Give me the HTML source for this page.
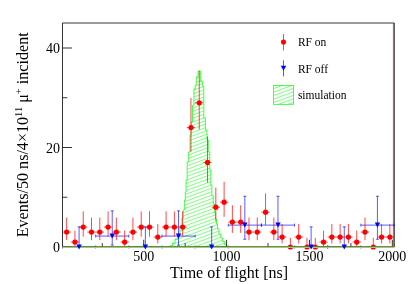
<!DOCTYPE html>
<html><head><meta charset="utf-8"><title>Time of flight</title>
<style>html,body{margin:0;padding:0;background:#fff}svg{display:block}text{font-family:"Liberation Serif",serif;fill:#000}</style></head><body>
<svg width="415" height="284" viewBox="0 0 415 284">
<rect width="415" height="284" fill="#fff"/>
<defs>
<clipPath id="gc"><polygon points="170.5,247.0 170.5,245.5 172.5,245.5 172.5,243.0 175.0,243.0 175.0,239.0 177.5,239.0 177.5,234.0 179.9,234.0 179.9,226.0 181.9,226.0 181.9,218.0 183.2,218.0 183.2,210.0 184.4,210.0 184.4,200.0 185.3,200.0 185.3,192.0 186.1,192.0 186.1,180.0 187.2,180.0 187.2,162.0 188.3,162.0 188.3,152.0 190.0,152.0 190.0,135.0 191.2,135.0 191.2,122.0 192.5,122.0 192.5,105.3 193.9,105.3 193.9,88.8 195.2,88.8 195.2,85.4 196.3,85.4 196.3,76.6 198.1,76.6 198.1,71.1 200.7,71.1 200.7,81.6 202.7,81.6 202.7,86.3 203.8,86.3 203.8,118.0 205.4,118.0 205.4,130.0 207.0,130.0 207.0,140.0 208.3,140.0 208.3,152.0 209.8,152.0 209.8,170.0 210.8,170.0 210.8,185.0 211.9,185.0 211.9,196.0 213.3,196.0 213.3,204.0 214.7,204.0 214.7,213.0 215.6,213.0 215.6,219.0 216.5,219.0 216.5,224.0 217.5,224.0 217.5,229.0 219.0,229.0 219.0,234.0 220.8,234.0 220.8,238.0 222.5,238.0 222.5,241.5 224.5,241.5 224.5,244.5 226.5,244.5 226.5,247.0"/></clipPath>
<clipPath id="lc"><rect x="273.6" y="85.6" width="20" height="18.7"/></clipPath>
</defs>
<path d="M168.0 64.56L230.0 41.99M168.0 68.05L230.0 45.48M168.0 71.54L230.0 48.97M168.0 75.03L230.0 52.46M168.0 78.52L230.0 55.95M168.0 82.01L230.0 59.44M168.0 85.50L230.0 62.93M168.0 88.99L230.0 66.42M168.0 92.48L230.0 69.91M168.0 95.97L230.0 73.40M168.0 99.46L230.0 76.89M168.0 102.95L230.0 80.38M168.0 106.44L230.0 83.87M168.0 109.93L230.0 87.36M168.0 113.42L230.0 90.85M168.0 116.91L230.0 94.34M168.0 120.40L230.0 97.83M168.0 123.89L230.0 101.32M168.0 127.38L230.0 104.81M168.0 130.87L230.0 108.30M168.0 134.36L230.0 111.79M168.0 137.85L230.0 115.28M168.0 141.34L230.0 118.77M168.0 144.83L230.0 122.26M168.0 148.32L230.0 125.75M168.0 151.81L230.0 129.24M168.0 155.30L230.0 132.73M168.0 158.79L230.0 136.22M168.0 162.28L230.0 139.71M168.0 165.77L230.0 143.20M168.0 169.26L230.0 146.69M168.0 172.75L230.0 150.18M168.0 176.24L230.0 153.67M168.0 179.73L230.0 157.16M168.0 183.22L230.0 160.65M168.0 186.71L230.0 164.14M168.0 190.20L230.0 167.63M168.0 193.69L230.0 171.12M168.0 197.18L230.0 174.61M168.0 200.67L230.0 178.10M168.0 204.16L230.0 181.59M168.0 207.65L230.0 185.08M168.0 211.14L230.0 188.57M168.0 214.63L230.0 192.06M168.0 218.12L230.0 195.55M168.0 221.61L230.0 199.04M168.0 225.10L230.0 202.53M168.0 228.59L230.0 206.02M168.0 232.08L230.0 209.51M168.0 235.57L230.0 213.00M168.0 239.06L230.0 216.49M168.0 242.55L230.0 219.98M168.0 246.04L230.0 223.47M168.0 249.53L230.0 226.96M168.0 253.02L230.0 230.45M168.0 256.51L230.0 233.94M168.0 260.00L230.0 237.43M168.0 263.49L230.0 240.92M168.0 266.98L230.0 244.41M168.0 270.47L230.0 247.90M168.0 273.96L230.0 251.39" stroke="#00ff00" stroke-width="0.5" fill="none" clip-path="url(#gc)"/>
<polyline points="170.5,247.0 170.5,245.5 172.5,245.5 172.5,243.0 175.0,243.0 175.0,239.0 177.5,239.0 177.5,234.0 179.9,234.0 179.9,226.0 181.9,226.0 181.9,218.0 183.2,218.0 183.2,210.0 184.4,210.0 184.4,200.0 185.3,200.0 185.3,192.0 186.1,192.0 186.1,180.0 187.2,180.0 187.2,162.0 188.3,162.0 188.3,152.0 190.0,152.0 190.0,135.0 191.2,135.0 191.2,122.0 192.5,122.0 192.5,105.3 193.9,105.3 193.9,88.8 195.2,88.8 195.2,85.4 196.3,85.4 196.3,76.6 198.1,76.6 198.1,71.1 200.7,71.1 200.7,81.6 202.7,81.6 202.7,86.3 203.8,86.3 203.8,118.0 205.4,118.0 205.4,130.0 207.0,130.0 207.0,140.0 208.3,140.0 208.3,152.0 209.8,152.0 209.8,170.0 210.8,170.0 210.8,185.0 211.9,185.0 211.9,196.0 213.3,196.0 213.3,204.0 214.7,204.0 214.7,213.0 215.6,213.0 215.6,219.0 216.5,219.0 216.5,224.0 217.5,224.0 217.5,229.0 219.0,229.0 219.0,234.0 220.8,234.0 220.8,238.0 222.5,238.0 222.5,241.5 224.5,241.5 224.5,244.5 226.5,244.5 226.5,247.0" fill="none" stroke="#00ff00" stroke-width="0.7"/>
<g stroke="#000" stroke-width="0.8" fill="none">
<path d="M62.5 247V23H394.3V247" />
<path d="M143.72 247v-7.2"/>
<path d="M226.59 247v-7.2"/>
<path d="M309.47 247v-7.2"/>
<path d="M392.34 247v-7.2"/>
<path d="M102.28 247v-3.9"/>
<path d="M185.16 247v-3.9"/>
<path d="M268.03 247v-3.9"/>
<path d="M350.91 247v-3.9"/>
<path d="M62.5 247.00h9.5"/>
<path d="M62.5 147.50h9.5"/>
<path d="M62.5 48.00h9.5"/>
<path d="M62.5 197.25h4.8"/>
<path d="M62.5 97.75h4.8"/>
</g>
<path d="M393.4 23.5V247" stroke="#ff0000" stroke-width="0.7" fill="none"/>
<g stroke="#0000ff" stroke-width="0.65" fill="none">
<path d="M79.08 226.85V247.00M77.58 226.85h3M77.58 247.00h3M62.50 247.00H95.65M62.50 245.50v3M95.65 245.50v3"/>
<path d="M112.22 210.89V245.11M110.72 210.89h3M110.72 245.11h3M95.65 236.06H128.80M95.65 234.56v3M128.80 234.56v3"/>
<path d="M145.38 226.85V247.00M143.88 226.85h3M143.88 247.00h3M128.80 247.00H161.95M128.80 245.50v3M161.95 245.50v3"/>
<path d="M178.53 210.89V245.11M177.03 210.89h3M177.03 245.11h3M161.95 236.06H195.10M161.95 234.56v3M195.10 234.56v3"/>
<path d="M211.68 226.85V247.00M210.18 226.85h3M210.18 247.00h3M195.10 247.00H228.25M195.10 245.50v3M228.25 245.50v3"/>
<path d="M244.83 196.24V239.25M243.33 196.24h3M243.33 239.25h3M228.25 225.11H261.40M228.25 223.61v3M261.40 223.61v3"/>
<path d="M277.98 196.24V239.25M276.48 196.24h3M276.48 239.25h3M261.40 225.11H294.55M261.40 223.61v3M294.55 223.61v3"/>
<path d="M311.12 226.85V247.00M309.62 226.85h3M309.62 247.00h3M294.55 247.00H327.70M294.55 245.50v3M327.70 245.50v3"/>
<path d="M344.28 226.85V247.00M342.78 226.85h3M342.78 247.00h3M327.70 247.00H360.85M327.70 245.50v3M360.85 245.50v3"/>
<path d="M377.43 196.24V239.25M375.93 196.24h3M375.93 239.25h3M360.85 225.11H394.00M360.85 223.61v3M394.00 223.61v3"/>
</g>
<g stroke="#ff0000" stroke-width="0.72" fill="none">
<path d="M66.64 217.56V240.20M62.50 232.07h8.28"/>
<path d="M74.93 230.58V246.14M70.79 242.03h8.28"/>
<path d="M83.22 211.37V236.62M79.08 227.10h8.28"/>
<path d="M91.51 217.56V240.20M87.37 232.07h8.28"/>
<path d="M99.79 217.56V240.20M95.65 232.07h8.28"/>
<path d="M108.08 211.37V236.62M103.94 227.10h8.28"/>
<path d="M116.37 217.56V240.20M112.23 232.07h8.28"/>
<path d="M124.66 230.58V246.14M120.52 242.03h8.28"/>
<path d="M132.94 217.56V240.20M128.80 232.07h8.28"/>
<path d="M141.23 211.37V236.62M137.09 227.10h8.28"/>
<path d="M149.52 211.37V236.62M145.38 227.10h8.28"/>
<path d="M157.81 223.93V243.48M153.67 237.05h8.28"/>
<path d="M166.09 211.37V236.62M161.95 227.10h8.28"/>
<path d="M174.38 211.37V236.62M170.24 227.10h8.28"/>
<path d="M182.67 211.37V236.62M178.53 227.10h8.28"/>
<path d="M190.96 97.91V151.80M186.82 127.60h8.28"/>
<path d="M199.24 70.65V129.36M195.10 102.73h8.28"/>
<path d="M207.53 136.54V182.73M203.39 162.43h8.28"/>
<path d="M215.82 187.57V220.97M211.68 207.20h8.28"/>
<path d="M224.11 181.78V216.87M219.97 202.22h8.28"/>
<path d="M232.39 205.30V232.87M228.25 222.12h8.28"/>
<path d="M240.68 205.30V232.87M236.54 222.12h8.28"/>
<path d="M248.97 217.56V240.20M244.83 232.07h8.28"/>
<path d="M257.26 217.56V240.20M253.12 232.07h8.28"/>
<path d="M265.54 193.42V225.02M261.40 212.18h8.28"/>
<path d="M273.83 217.56V240.20M269.69 232.07h8.28"/>
<path d="M282.12 223.93V243.48M277.98 237.05h8.28"/>
<path d="M290.41 237.84V247.00M286.27 247.00h8.28"/>
<path d="M298.69 223.93V243.48M294.55 237.05h8.28"/>
<path d="M306.98 237.84V247.00M302.84 247.00h8.28"/>
<path d="M315.27 237.84V247.00M311.13 247.00h8.28"/>
<path d="M323.56 230.58V246.14M319.42 242.03h8.28"/>
<path d="M331.84 223.93V243.48M327.70 237.05h8.28"/>
<path d="M340.13 223.93V243.48M335.99 237.05h8.28"/>
<path d="M348.42 223.93V243.48M344.28 237.05h8.28"/>
<path d="M356.71 230.58V246.14M352.57 242.03h8.28"/>
<path d="M364.99 217.56V240.20M360.85 232.07h8.28"/>
<path d="M373.28 237.84V247.00M369.14 247.00h8.28"/>
<path d="M381.57 223.93V243.48M377.43 237.05h8.28"/>
<path d="M389.86 223.93V243.48M385.72 237.05h8.28"/>
</g>
<g fill="#ff0000">
<circle cx="66.64" cy="232.07" r="2.6"/>
<circle cx="74.93" cy="242.03" r="2.6"/>
<circle cx="83.22" cy="227.10" r="2.6"/>
<circle cx="91.51" cy="232.07" r="2.6"/>
<circle cx="99.79" cy="232.07" r="2.6"/>
<circle cx="108.08" cy="227.10" r="2.6"/>
<circle cx="116.37" cy="232.07" r="2.6"/>
<circle cx="124.66" cy="242.03" r="2.6"/>
<circle cx="132.94" cy="232.07" r="2.6"/>
<circle cx="141.23" cy="227.10" r="2.6"/>
<circle cx="149.52" cy="227.10" r="2.6"/>
<circle cx="157.81" cy="237.05" r="2.6"/>
<circle cx="166.09" cy="227.10" r="2.6"/>
<circle cx="174.38" cy="227.10" r="2.6"/>
<circle cx="182.67" cy="227.10" r="2.6"/>
<circle cx="190.96" cy="127.60" r="2.6"/>
<circle cx="199.24" cy="102.73" r="2.6"/>
<circle cx="207.53" cy="162.43" r="2.6"/>
<circle cx="215.82" cy="207.20" r="2.6"/>
<circle cx="224.11" cy="202.22" r="2.6"/>
<circle cx="232.39" cy="222.12" r="2.6"/>
<circle cx="240.68" cy="222.12" r="2.6"/>
<circle cx="248.97" cy="232.07" r="2.6"/>
<circle cx="257.26" cy="232.07" r="2.6"/>
<circle cx="265.54" cy="212.18" r="2.6"/>
<circle cx="273.83" cy="232.07" r="2.6"/>
<circle cx="282.12" cy="237.05" r="2.6"/>
<circle cx="290.41" cy="247.00" r="2.6"/>
<circle cx="298.69" cy="237.05" r="2.6"/>
<circle cx="306.98" cy="247.00" r="2.6"/>
<circle cx="315.27" cy="247.00" r="2.6"/>
<circle cx="323.56" cy="242.03" r="2.6"/>
<circle cx="331.84" cy="237.05" r="2.6"/>
<circle cx="340.13" cy="237.05" r="2.6"/>
<circle cx="348.42" cy="237.05" r="2.6"/>
<circle cx="356.71" cy="242.03" r="2.6"/>
<circle cx="364.99" cy="232.07" r="2.6"/>
<circle cx="373.28" cy="247.00" r="2.6"/>
<circle cx="381.57" cy="237.05" r="2.6"/>
<circle cx="389.86" cy="237.05" r="2.6"/>
</g>
<path d="M62 246.5H395" stroke="#a05a3a" stroke-width="1" fill="none" opacity="0.88"/>
<path d="M62.5 247.5H394.5" stroke="#66e877" stroke-width="1" fill="none"/>
<g fill="#0000ff">
<path d="M76.38 244.50h5.4l-2.7 4.9z"/>
<path d="M109.52 233.56h5.4l-2.7 4.9z"/>
<path d="M142.68 244.50h5.4l-2.7 4.9z"/>
<path d="M175.83 233.56h5.4l-2.7 4.9z"/>
<path d="M208.98 244.50h5.4l-2.7 4.9z"/>
<path d="M242.13 222.61h5.4l-2.7 4.9z"/>
<path d="M275.28 222.61h5.4l-2.7 4.9z"/>
<path d="M308.43 244.50h5.4l-2.7 4.9z"/>
<path d="M341.58 244.50h5.4l-2.7 4.9z"/>
<path d="M374.73 222.61h5.4l-2.7 4.9z"/>
</g>
<path d="M283.5 34V50.4" stroke="#ff0000" stroke-width="0.72"/><circle cx="283.5" cy="42" r="2.55" fill="#ff0000"/>
<path d="M283.5 60.3V76.4" stroke="#0000ff" stroke-width="0.65"/><path d="M280.75 65.7h5.5l-2.75 5z" fill="#0000ff"/>
<path d="M273.4 81.70L294.0 74.20M273.4 85.19L294.0 77.69M273.4 88.68L294.0 81.18M273.4 92.17L294.0 84.67M273.4 95.66L294.0 88.16M273.4 99.15L294.0 91.65M273.4 102.64L294.0 95.14M273.4 106.13L294.0 98.63M273.4 109.62L294.0 102.12M273.4 113.11L294.0 105.61M273.4 116.60L294.0 109.10" stroke="#00ff00" stroke-width="0.5" fill="none" clip-path="url(#lc)"/>
<rect x="273.6" y="85.6" width="20" height="18.7" fill="none" stroke="#00ff00" stroke-width="0.7"/>
<g font-size="11.5px"><text x="297.9" y="45.9">RF on</text><text x="297.9" y="72.8">RF off</text><text x="297.9" y="98.9">simulation</text></g>
<g font-size="14px">
<text x="143.7" y="261" text-anchor="middle">500</text>
<text x="226.6" y="261" text-anchor="middle">1000</text>
<text x="309.5" y="261" text-anchor="middle">1500</text>
<text x="392.3" y="261" text-anchor="middle">2000</text>
<text x="60" y="252.2" text-anchor="end">0</text>
<text x="60" y="152.7" text-anchor="end">20</text>
<text x="60" y="53.2" text-anchor="end">40</text>
</g>
<text x="170" y="278" font-size="16px">Time of flight [ns]</text>
<text transform="translate(27.8 237.3) rotate(-90)" font-size="16.1px">Events/50 ns/4×10<tspan font-size="10.5px" dy="-6">11</tspan><tspan dy="6"> μ</tspan><tspan font-size="10.5px" dy="-6">+</tspan><tspan dy="6"> incident</tspan></text>
</svg></body></html>
